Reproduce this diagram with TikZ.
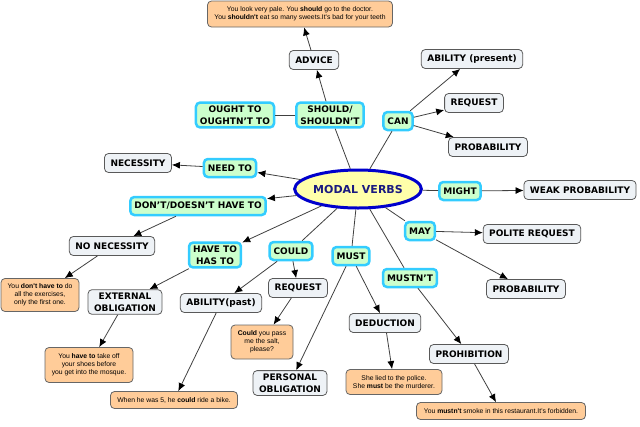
\documentclass[tikz,border=0pt]{standalone}
\usepackage{fontspec}
\setmainfont{DejaVu Sans}
\newfontfamily\exfont{Liberation Sans}
\usetikzlibrary{positioning}
\usetikzlibrary{shapes.geometric}
\usetikzlibrary{arrows.meta}
\definecolor{verbfill}{HTML}{CCFFCC}
\definecolor{verbline}{HTML}{33CCFF}
\definecolor{usefill}{HTML}{EEF2F6}
\definecolor{exfill}{HTML}{FFCC99}
\definecolor{mainfill}{HTML}{FFFFAA}
\definecolor{mainline}{HTML}{0000CC}
\definecolor{maintext}{HTML}{1A1A80}
\tikzset{
	main/.style={draw=mainline, ellipse, line width=3pt, fill=mainfill, minimum width=108pt, minimum height=38pt, inner sep=0pt, text=maintext, font=\fontsize{11}{12}\selectfont\bfseries},
	verb/.style={draw=verbline, rectangle, rounded corners=4pt, line width=2.5pt, fill=verbfill, inner xsep=4pt, inner ysep=3pt, minimum height=18pt, align=center, font=\fontsize{9}{12}\selectfont\bfseries},
	use/.style={draw=black!65, rectangle, rounded corners=4pt, line width=0.8pt, fill=usefill, inner xsep=6pt, inner ysep=3pt, minimum height=19pt, align=center, font=\fontsize{9}{12}\selectfont\bfseries},
	% example sentences
	example/.style={draw=black!60, rectangle, rounded corners=4pt, line width=0.8pt, fill=exfill, inner xsep=5pt, inner ysep=3pt, align=center, font=\exfont\fontsize{6.8}{8}\selectfont},
}

\begin{document}
\begin{tikzpicture}[x=1pt, y=-1pt]
			\useasboundingbox (0,0) rectangle (640,426);
			\node (modal) [main] at (358,189) {MODAL VERBS};
			
			\node (exshould) [example, minimum width=185pt, minimum height=26pt] at (300,14) {You look very pale. You \textbf{should} go to the doctor.\\You \textbf{shouldn't} eat so many sweets.It's bad for your teeth};
			\node (advice) [use] at (314,60) {ADVICE};
			\node (should) [verb] at (330,115) {SHOULD/\\SHOULDN'T};
			\node (ought) [verb] at (235,115) {OUGHT TO\\OUGHTN'T TO};
			
			\node (can) [verb] at (398,121) {CAN};
			\node (abilpres) [use] at (472,59) {ABILITY (present)};
			\node (reqcan) [use] at (474,103) {REQUEST};
			\node (probcan) [use] at (488,147) {PROBABILITY};
			
			\node (needto) [verb] at (230,168) {NEED TO};
			\node (necessity) [use] at (138,163) {NECESSITY};
			\node (donthave) [verb] at (198,206) {DON'T/DOESN'T HAVE TO};
			\node (nonec) [use] at (112,246) {NO NECESSITY};
			\node (exdont) [example, minimum width=78pt, minimum height=33pt] at (40,295) {You \textbf{don't have to} do\\all the exercises,\\only the first one.};
			
			\node (haveto) [verb] at (215,255) {HAVE TO\\HAS TO};
			\node (external) [use] at (125,302) {EXTERNAL\\OBLIGATION};
			\node (exhave) [example, minimum width=88pt, minimum height=35pt] at (89,365) {You \textbf{have to} take off\\your shoes before\\you get into the mosque.};
			
			\node (could) [verb] at (291,251) {COULD};
			\node (abilpast) [use] at (221,303) {ABILITY(past)};
			\node (reqcould) [use] at (298,288) {REQUEST};
			\node (excould) [example, minimum width=62pt, minimum height=34pt] at (262,342) {\textbf{Could} you pass\\me the salt,\\please?};
			\node (expast) [example, minimum width=127pt, minimum height=17pt] at (174,400) {When he was 5, he \textbf{could} ride a bike.};
			
			\node (must) [verb] at (351,256) {MUST};
			\node (personal) [use] at (290,383) {PERSONAL\\OBLIGATION};
			\node (deduction) [use] at (385,323) {DEDUCTION};
			\node (exmust) [example, minimum width=96pt, minimum height=25pt] at (394,382) {She lied to the police.\\She \textbf{must} be the murderer.};
			
			\node (mustnt) [verb] at (410,278) {MUSTN'T};
			\node (prohib) [use] at (469,354) {PROHIBITION};
			\node (exmustnt) [example, minimum width=169pt, minimum height=17pt] at (501,411) {You \textbf{mustn't} smoke in this restaurant.It's forbidden.};
			
			\node (might) [verb] at (460,191) {MIGHT};
			\node (weak) [use] at (580,190) {WEAK PROBABILITY};
			\node (may) [verb] at (420,231) {MAY};
			\node (polite) [use] at (532,234) {POLITE REQUEST};
			\node (probmay) [use] at (526,289) {PROBABILITY};
			
			\begin{scope}[black!75, line width=0.8pt]
				\draw (modal) -- (should);
				\draw (ought) -- (should);
				\draw (modal) -- (can);
				\draw (modal) -- (could);
				\draw (modal) -- (must);
				\draw (modal) -- (mustnt);
				\draw (modal) -- (might);
				\draw (modal) -- (may);
			\end{scope}
			
			\begin{scope}[black!75, line width=0.8pt, ->, >={Latex[length=8pt, width=7pt, color=black]}]
				\draw (should) -- (advice);
				\draw (advice) -- (exshould);
				\draw (can) -- (abilpres);
				\draw (can) -- (reqcan);
				\draw (can) -- (probcan);
				\draw (modal) -- (needto);
				\draw (needto) -- (necessity);
				\draw (modal) -- (donthave);
				\draw (donthave) -- (nonec);
				\draw (nonec) -- (exdont);
				\draw (modal) -- (haveto);
				\draw (haveto) -- (external);
				\draw (external) -- (exhave);
				\draw (could) -- (abilpast);
				\draw (could) -- (reqcould);
				\draw (reqcould) -- (excould);
				\draw (abilpast) -- (expast);
				\draw (must) -- (personal);
				\draw (must) -- (deduction);
				\draw (deduction) -- (exmust);
				\draw (mustnt) -- (prohib);
				\draw (prohib) -- (exmustnt);
				\draw (might) -- (weak);
				\draw (may) -- (polite);
				\draw (may) -- (probmay);
			\end{scope}
		\end{tikzpicture}
\end{document}
